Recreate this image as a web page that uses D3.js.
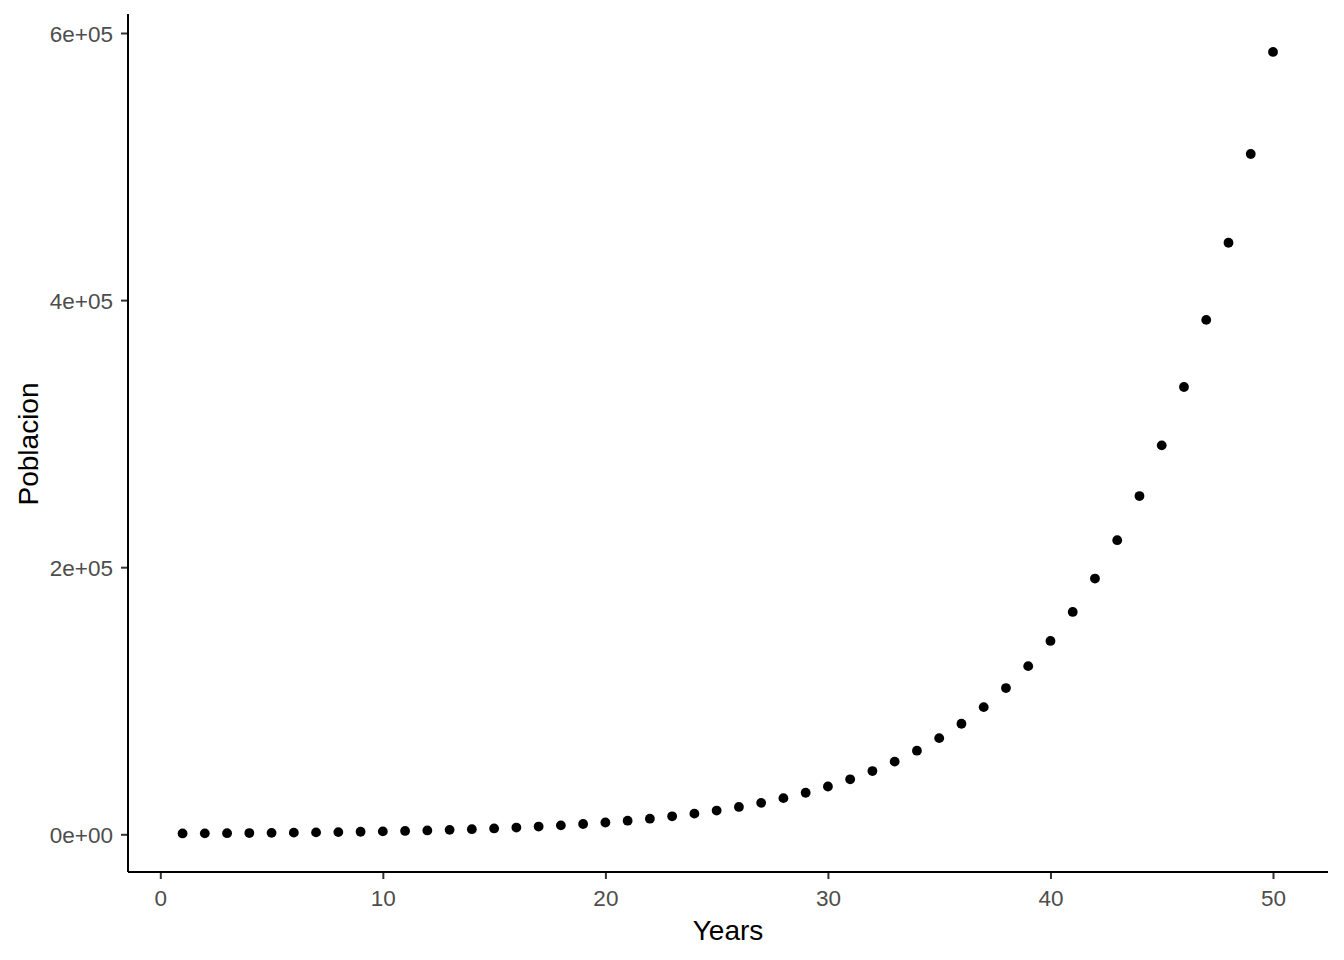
<!DOCTYPE html>
<html><head><meta charset="utf-8">
<script src="https://cdn.jsdelivr.net/npm/d3@7"></script>
<style>body{margin:0;background:#fff}svg{display:block}</style>
</head><body>
<script>
const years = d3.range(1, 51);
const poblacion = [622,715,822,946,1087,1250,1438,1654,1902,2187,
  2515,2892,3326,3825,4399,5059,5818,6690,7694,8848,
  10175,11701,13456,15475,17796,20465,23535,27065,31124,35793,
  41162,47336,54436,62602,71992,82790,95209,109490,125914,144801,
  166521,191499,220224,253257,291246,334933,385173,442949,509391,585800];
const xTicks = [0,10,20,30,40,50];
const yTicks = [0,200000,400000,600000];
const yTickLabels = ["0e+00","2e+05","4e+05","6e+05"];

(function(){
const W = 1344, H = 960;
const svg = d3.select("body").append("svg").attr("width", W).attr("height", H);
const pLeft = 128, pRight = 1328, pTop = 14, pBottom = 872;

const x = d3.scaleLinear().domain([0, 50]).range([160.3, 1273]);
const y = d3.scaleLinear().domain([0, 600000]).range([834.3, 33]);

const font = "Liberation Sans, Arial, sans-serif";

const xAxis = svg.append("g").attr("transform", `translate(0,${pBottom})`)
  .call(d3.axisBottom(x).tickValues(xTicks).tickSize(7).tickPadding(11).tickSizeOuter(0));
const yAxis = svg.append("g").attr("transform", `translate(${pLeft},0)`)
  .call(d3.axisLeft(y).tickValues(yTicks).tickFormat((d,i)=>yTickLabels[i]).tickSize(7).tickPadding(8).tickSizeOuter(0));
[xAxis, yAxis].forEach(g => {
  g.select(".domain").remove();
  g.selectAll(".tick line").attr("stroke", "#333").attr("stroke-width", 2);
  g.selectAll(".tick text").attr("fill", "#4d4d4d").style("font-family", font).style("font-size", "22.5px");
});
yAxis.selectAll(".tick text").attr("dy", "0.36em");
svg.append("line").attr("x1", pLeft).attr("x2", pRight).attr("y1", pBottom).attr("y2", pBottom)
  .attr("stroke", "#000").attr("stroke-width", 2);
svg.append("line").attr("x1", pLeft).attr("x2", pLeft).attr("y1", pTop).attr("y2", pBottom)
  .attr("stroke", "#000").attr("stroke-width", 2);

svg.append("g").selectAll("circle").data(years).join("circle")
  .attr("cx", d => x(d)).attr("cy", (d,i) => y(poblacion[i])).attr("r", 4.9).attr("fill", "#000");

svg.append("text").attr("x", 728).attr("y", 940).attr("text-anchor", "middle")
  .style("font-family", font).style("font-size", "28px").attr("fill", "#000").text("Years");
svg.append("text").attr("transform", "translate(38,444) rotate(-90)").attr("text-anchor", "middle")
  .style("font-family", font).style("font-size", "28px").attr("fill", "#000").text("Poblacion");
})();
</script>
</body></html>
